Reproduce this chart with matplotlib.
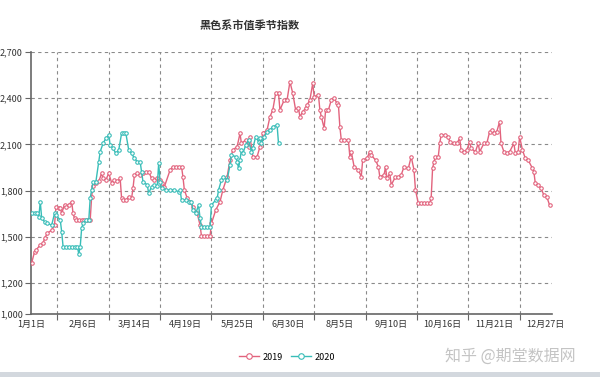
import matplotlib
matplotlib.use("Agg")
import matplotlib.pyplot as plt
from matplotlib.lines import Line2D
from matplotlib.patches import Rectangle

plt.rcParams['font.family'] = ['Noto Sans CJK SC', 'DejaVu Sans']

# day of year (0 = 1月1日) and index value
days_2019 = [0, 2, 3, 6, 8, 9, 11, 14, 16, 17, 19, 20, 21, 23, 24, 26, 28, 29, 30,
             31, 33, 35, 37, 39, 41, 42, 43, 45, 47, 49, 50, 52, 54, 56, 58, 60, 62,
             63, 64, 66, 68, 70, 71, 72, 74, 76, 78, 80, 82, 84, 86, 88, 90, 91, 93,
             97, 99, 101, 103, 105, 106, 107, 109, 111, 113, 116, 118, 119, 121, 123,
             125, 126, 129, 132, 134, 137, 139, 141, 144, 146, 147, 150, 152, 153,
             155, 158, 160, 162, 165, 167, 169, 171, 173, 174, 177, 179, 181, 183,
             185, 187, 188, 190, 192, 193, 195, 197, 198, 201, 202, 203, 205, 206,
             208, 210, 212, 214, 215, 216, 217, 219, 222, 223, 224, 226, 229, 231,
             232, 235, 237, 238, 241, 243, 244, 247, 248, 249, 251, 252, 255, 257,
             259, 261, 264, 266, 268, 269, 271, 273, 275, 277, 279, 280, 281, 282,
             283, 285, 286, 287, 290, 292, 293, 296, 298, 300, 301, 303, 305, 307,
             308, 311, 313, 314, 317, 319, 321, 323, 324, 326, 328, 329, 331, 333,
             335, 338, 339, 341, 342, 344, 346, 348, 351, 352, 353, 355, 357, 359,
             361, 363]
vals_2019 = [1333, 1404, 1415, 1448, 1459, 1491, 1524, 1545, 1577, 1696, 1690, 1688,
             1653, 1710, 1696, 1710, 1729, 1653, 1621,
             1610, 1610, 1610, 1610, 1610, 1610, 1760, 1830, 1850, 1860, 1913, 1880,
             1870, 1913, 1852, 1870, 1860, 1880,
             1751, 1740, 1740, 1762, 1750, 1815, 1902, 1913, 1900, 1913, 1923, 1923,
             1880, 1870, 1880, 1870, 1850, 1826,
             1934, 1956, 1956, 1956, 1956, 1891, 1805, 1751, 1729, 1696, 1653, 1577,
             1506, 1506, 1506,
             1506, 1588, 1675, 1729, 1805, 1891, 1999, 2064, 2086, 2172, 2107, 2129,
             2086, 2150,
             2021, 2021, 2086, 2172, 2194, 2280, 2324, 2432, 2432, 2324, 2389, 2389,
             2507, 2432,
             2324, 2335, 2280, 2313, 2335, 2356, 2389, 2497, 2410, 2421, 2324, 2280,
             2205, 2324,
             2324, 2389, 2400, 2367, 2356, 2216, 2129, 2129, 2129, 2021, 2053, 1956,
             1934, 1891,
             1999, 2010, 2053, 2031, 1999, 1956, 1891, 1902, 1956, 1880, 1913, 1837,
             1891, 1891,
             1902, 1956, 1945, 2021, 1934, 1805, 1718, 1718, 1718, 1718, 1718, 1751,
             1945, 1988,
             2021, 2021, 2107, 2161, 2161, 2150, 2118, 2107, 2107, 2140, 2064, 2053,
             2064, 2118,
             2075, 2053, 2107, 2053, 2107, 2107, 2183, 2194, 2172, 2183, 2248, 2107,
             2053, 2042,
             2053, 2107, 2042, 2053, 2150, 2064, 2010, 1999, 1945, 1923, 1848, 1837,
             1815, 1772,
             1762, 1707]

days_2020 = [0, 2, 4, 5, 6, 7, 9, 11, 14, 16, 17, 20, 21, 22, 24, 26, 28, 30, 32, 33,
             34, 35, 36, 38, 40, 41, 42, 43, 45, 47, 48, 50, 52, 54, 55, 57, 59, 61,
             63, 65, 66, 68, 70, 72, 74, 76, 77, 78, 81, 82, 84, 86, 88, 89, 90, 91,
             94, 97, 100, 103, 104, 105, 108, 110, 112, 113, 115, 117, 118, 119, 121,
             123, 125, 126, 129, 130, 131, 133, 134, 137, 139, 140, 143, 144, 145,
             146, 147, 148, 150, 152, 154, 155, 157, 159, 160, 161, 163, 165, 167,
             169, 172, 173]
vals_2020 = [1653, 1653, 1653, 1632, 1729, 1621, 1599, 1588, 1577, 1653, 1642, 1610,
             1534, 1437, 1437, 1437, 1437, 1437, 1437, 1389,
             1437, 1556, 1588, 1610, 1610, 1751, 1805, 1859, 1859, 1989, 2053, 2107,
             2140, 2161, 2096, 2075, 2042, 2064,
             2172, 2172, 2172, 2064, 2042, 2010, 1989, 1989, 1923, 1859, 1837, 1783,
             1826, 1837, 1830, 1978, 1859, 1815,
             1805, 1805, 1805, 1794, 1805, 1740, 1740, 1729, 1729, 1675, 1653, 1707,
             1621, 1567, 1567,
             1567, 1567, 1707, 1740, 1751, 1805, 1870, 1891, 1870, 1967, 2031, 2021,
             1989, 1945,
             2000, 2064, 2042, 2096, 2129, 2053, 2075, 2150, 2118, 2140, 2107, 2150,
             2183, 2194,
             2216, 2226, 2107]

x_labels = ["1月1日", "2月6日", "3月14日", "4月19日", "5月25日", "6月30日",
            "8月5日", "9月10日", "10月16日", "11月21日", "12月27日"]
y_ticks = [1000, 1200, 1500, 1800, 2100, 2400, 2700]

c2019 = "#e2637d"
c2020 = "#38bdb8"

fig = plt.figure(figsize=(6, 3.77), dpi=100)
ax = fig.add_axes([31 / 600, 1 - 314 / 377, (551.7 - 31) / 600, (314 - 52) / 377])

style = dict(lw=1.0, marker="o", ms=2.5, mfc="white", mew=0.8)
ax.plot([d + 0.5 for d in days_2019], vals_2019, color=c2019, zorder=3, **style)
ax.plot([d + 0.5 for d in days_2020], vals_2020, color=c2020, zorder=4, **style)

ax.set_xlim(0, 365)
ax.set_ylim(1000, 2700)

ax.set_xticks([36 * i + 0.5 for i in range(len(x_labels))])
ax.set_xticklabels(x_labels, fontsize=6.5, color="#333333")
ax.set_xticks([36 * i + 18.5 for i in range(10)], minor=True)
ax.tick_params(axis="x", which="major", length=0, pad=4)
ax.tick_params(axis="x", which="minor", length=4, width=0.8, color="#666666")

ax.set_yticks(y_ticks)
ax.set_yticklabels(["{:,}".format(v) for v in y_ticks], fontsize=6.5, color="#333333")
ax.tick_params(axis="y", length=4, width=0.8, color="#666666", pad=2)

ax.grid(axis="y", which="major", color="#8a8a8a", ls=(0, (3, 3)), lw=0.8)
ax.grid(axis="x", which="minor", color="#8a8a8a", ls=(0, (3, 3)), lw=0.8)
for s in ["top", "right"]:
    ax.spines[s].set_visible(False)
for s in ["left", "bottom"]:
    ax.spines[s].set_color("#666666")
    ax.spines[s].set_linewidth(1.2)

fig.text(250 / 600, 1 - 25 / 377, "黑色系市值季节指数", ha="center", va="center",
         fontsize=8, fontweight="bold", color="#333333")

handles = [Line2D([], [], color=c2019, **style), Line2D([], [], color=c2020, **style)]
for h in handles:
    h.set_markersize(4)
fig.legend(handles, ["2019", "2020"], loc="center", bbox_to_anchor=(287 / 600, 1 - 357 / 377),
           ncol=2, frameon=False, fontsize=6.5, handlelength=2.2, handletextpad=0.4,
           columnspacing=1.0)

fig.text(510 / 600, 1 - 356 / 377, "知乎 @期堂数据网", ha="center", va="center",
         fontsize=11.5, color="#c4c4c4")
fig.patches.append(Rectangle((0, 0), 1, 5 / 377, transform=fig.transFigure,
                             facecolor="#d3d8de", edgecolor="none"))

plt.savefig("out.png", dpi=100)
